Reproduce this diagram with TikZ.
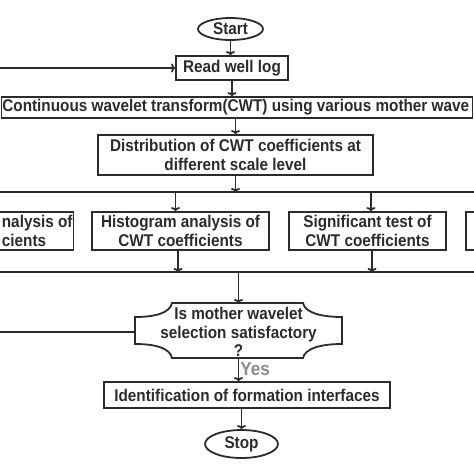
\documentclass[tikz,border=0pt]{standalone}
\usepackage{fontspec}
\setmainfont{Liberation Sans}[FakeStretch=0.9]
\usetikzlibrary{arrows,arrows.meta,positioning,shapes,calc}
\definecolor{inkgray}{HTML}{2B2B2B}
\definecolor{yesgray}{HTML}{8C8C8C}
\begin{document}
\begin{tikzpicture}[x=1pt,y=-1pt,>={To[length=4pt,width=9pt]},line width=1.8pt,color=inkgray,
  every node/.style={font=\fontsize{17}{18.5}\selectfont\bfseries},
  box node/.style={rectangle,draw,inner sep=2pt,align=center},
  end node/.style={ellipse,draw,inner sep=0pt}]%
\useasboundingbox (0,0) rectangle (474,474);
\clip (0,0) rectangle (474,474);
\begin{scope}
\node[end node,minimum width=65,minimum height=22] (start) at (230.5,29) {Start};
\node[box node,minimum width=112,minimum height=24] (read) at (232,68) {Read well log};
\node[box node,anchor=west,minimum width=471,minimum height=21,inner xsep=1pt] (cwt) at (0.5,107.5) {\makebox[469pt][l]{Continuous wavelet transform(CWT) using various mother wave}};
\node[box node,anchor=west,align=left,inner xsep=2.5pt,minimum height=38] (ana) at (-1.5,231) {\makebox[69pt][l]{nalysis of}\\\makebox[69pt][l]{cients}};
\node[box node,minimum width=275,minimum height=40] (dist) at (235.5,155) {Distribution of CWT coefficients at\\different scale level};
\node[box node,minimum width=177,minimum height=38] (hist) at (180.5,231) {Histogram analysis of\\CWT coefficients};
\node[box node,minimum width=157,minimum height=38] (sig) at (367.5,231) {Significant test of\\CWT coefficients};
\node[box node,anchor=west,minimum width=40,minimum height=38] (last) at (465,231) {};
\node[minimum width=207,minimum height=55,inner sep=0pt,align=center] (dec) at (238.5,332) {Is mother wavelet\\selection satisfactory\\?};
\node[box node,minimum width=286,minimum height=26] (ident) at (247,395) {Identification of formation interfaces};
\node[end node,minimum width=73,minimum height=28] (stop) at (241.5,444) {Stop};
\end{scope}
% decision outline
\draw (172,303) -- (303,303) .. controls (305,313) and (322,317) .. (342,317) -- (342,344)
  .. controls (322,344) and (305,348) .. (303,358) -- (172,358)
  .. controls (170,348) and (155,344) .. (135,344) -- (135,317)
  .. controls (155,317) and (170,313) .. (172,303) -- cycle;
\coordinate (topbus) at (-10,192);
\coordinate (lowbus) at (-10,272);
\draw (topbus) -- ++(500,0);
\draw (lowbus) -- ++(500,0);
\begin{scope}
\draw[->] (start.south) -- (start.south |- read.north);
\draw[->] (read.south) -- (read.south |- cwt.north);
\draw[->] (cwt.south -| dist.north) -- (dist.north);
\draw[->] (dist.south) -- (dist.south |- topbus);
\draw[->] ([xshift=-5pt]hist.north |- topbus) -- ([xshift=-5pt]hist.north);
\draw[->] ([xshift=3.5pt]sig.north |- topbus) -- ([xshift=3.5pt]sig.north);
\draw[->] ([xshift=-2.5pt]hist.south) -- ([xshift=-2.5pt]hist.south |- lowbus);
\draw[->] ([xshift=4.5pt]sig.south) -- ([xshift=4.5pt]sig.south |- lowbus);
\draw[->] (dec.north |- lowbus) -- (303,303 -| dec.north);
\draw[->] (dec.west) -- ++(-160,0) |- (read.west);
\draw[->] (303,358 -| dec.south) -- node[right,text=yesgray,inner sep=1pt,font=\fontsize{19}{20}\selectfont\bfseries]{Yes} (dec.south |- ident.north);
\draw[->] (ident.south -| stop.north) -- (stop.north);
\end{scope}
\end{tikzpicture}
\end{document}
